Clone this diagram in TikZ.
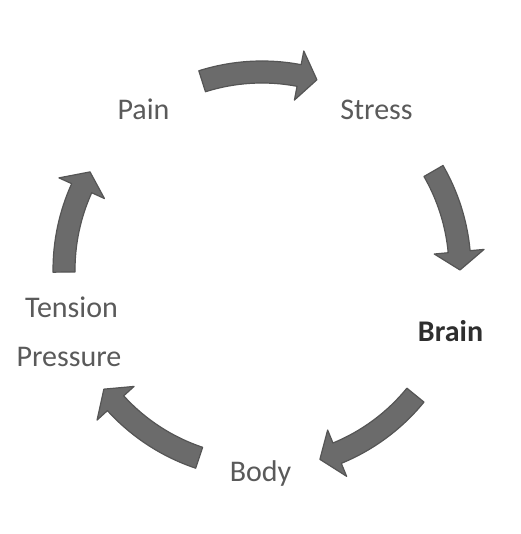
\documentclass[tikz,border=0pt]{standalone}
\usepackage{fontspec}
\setmainfont{Carlito}
\definecolor{lbl}{HTML}{5A5A5A}
\definecolor{lbldark}{HTML}{2E2E2E}
\definecolor{arrfill}{HTML}{6B6B6B}
\definecolor{arredge}{HTML}{555555}
\newcommand\cycarrow[2]{%
  \pgfmathsetmacro\cycah{#2+5.3}%
  \filldraw[arrowshape] (#1:209pt) arc[start angle=#1, end angle=\cycah, radius=209pt]
    -- (\cycah:223pt) -- (#2:198pt) -- (\cycah:173pt) -- (\cycah:187pt)
    arc[start angle=\cycah, end angle=#1, radius=187pt] -- cycle;}
\begin{document}
\begin{tikzpicture}[x=1pt,y=1pt,
  lab/.style={text=lbl, font=\fontsize{30}{36}\selectfont, anchor=base, inner sep=0pt},
  labbold/.style={lab, text=lbldark, font=\fontsize{30}{36}\selectfont\bfseries},
  arrowshape/.style={fill=arrfill, draw=arredge, line width=1.2pt, line join=round}]
\useasboundingbox (0,0) rectangle (520,534);
\fill[white] (0,0) rectangle (520,534);
\node[lab] (pain) at (143.5,414) {Pain};
\node[lab] (stress) at (376.5,414) {Stress};
\node[labbold] (brain) at (450.5,192) {Brain};
\node[lab] (body) at (260.5,52) {Body};
\node[lab] (tension) at (71.5,216) {Tension};
\node[lab] (pressure) at (69,167) {Pressure};
\begin{scope}[shift={(262,264)}]
  \cycarrow{107.6}{73.9}
  \cycarrow{30}{0}
  \cycarrow{-39.2}{-73}
  \cycarrow{-108.5}{-143}
  \cycarrow{180.6}{150.3}
\end{scope}
\end{tikzpicture}
\end{document}
